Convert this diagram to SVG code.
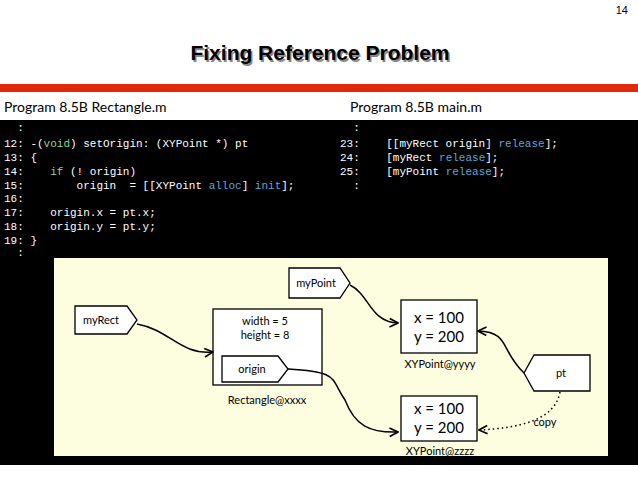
<svg xmlns="http://www.w3.org/2000/svg" width="638" height="479" viewBox="0 0 638 479">
<style>
.code{font-family:"Liberation Mono",monospace;font-size:11px;fill:#fff;white-space:pre}
.kw{fill:#8fd48f}.bl{fill:#5aa9d8}
.lbl{font-family:"Lato","Open Sans",sans-serif;font-size:11px;fill:#000;text-anchor:middle}
.big{font-family:"Lato","Open Sans",sans-serif;font-size:15px;fill:#000;text-anchor:middle}
.shape{fill:#fff;stroke:#000;stroke-width:1.3}
.con{fill:none;stroke:#000;stroke-width:1.5}
</style>
<defs><marker id="ah" viewBox="0 0 10 10" refX="9" refY="5" markerWidth="7" markerHeight="7" orient="auto"><path d="M1,1 L9,5 L1,9" fill="none" stroke="#000" stroke-width="1.6"/></marker></defs>
<rect width="638" height="479" fill="#fff"/>
<text x="628" y="14" font-family="Liberation Sans,sans-serif" font-size="11" text-anchor="end">14</text>
<text x="320" y="60" font-family="Liberation Sans,sans-serif" font-size="21" font-weight="bold" text-anchor="middle" fill="#888" transform="translate(1.5,1.5)">Fixing Reference Problem</text>
<text x="320" y="60" font-family="Liberation Sans,sans-serif" font-size="21" font-weight="bold" text-anchor="middle" fill="#000">Fixing Reference Problem</text>
<rect x="0" y="84" width="638" height="8" fill="#e0280a"/>
<text x="4" y="112" font-family="Lato,sans-serif" font-size="14">Program 8.5B Rectangle.m</text>
<text x="350" y="112" font-family="Lato,sans-serif" font-size="14">Program 8.5B main.m</text>
<rect x="0" y="120" width="638" height="345" fill="#000"/>
<text class="code" x="4" y="131">  :</text>
<text class="code" x="4" y="147">12: -(<tspan class="kw">void</tspan>) setOrigin: (XYPoint *) pt</text>
<text class="code" x="4" y="161">13: {</text>
<text class="code" x="4" y="175">14:    <tspan class="kw">if</tspan> (! origin)</text>
<text class="code" x="4" y="189">15:        origin  = [[XYPoint <tspan class="bl">alloc</tspan>] <tspan class="bl">init</tspan>];</text>
<text class="code" x="4" y="202">16:</text>
<text class="code" x="4" y="216">17:    origin.x = pt.x;</text>
<text class="code" x="4" y="230">18:    origin.y = pt.y;</text>
<text class="code" x="4" y="244">19: }</text>
<text class="code" x="4" y="256">  :</text>
<text class="code" x="340" y="131">  :</text>
<text class="code" x="340" y="147">23:    [[myRect origin] <tspan class="bl">release</tspan>];</text>
<text class="code" x="340" y="161">24:    [myRect <tspan class="bl">release</tspan>];</text>
<text class="code" x="340" y="175">25:    [myPoint <tspan class="bl">release</tspan>];</text>
<text class="code" x="340" y="189">  :</text>
<rect x="54" y="258" width="554" height="198" fill="#fdfde0"/>
<g id="myRect"><path class="shape" d="M75,306 H127 L137,320 L127,334 H75 Z"/><text class="lbl" x="101" y="324">myRect</text></g>
<g id="myPoint"><path class="shape" d="M289,268 H340 L350,283 L340,298 H289 Z"/><text class="lbl" x="316" y="287">myPoint</text></g>
<g id="rect"><rect class="shape" x="213" y="309" width="109" height="76"/><text class="lbl" x="265" y="325">width = 5</text><text class="lbl" x="265" y="339">height = 8</text><text class="lbl" x="267" y="404">Rectangle@xxxx</text></g>
<g id="origin"><path class="shape" d="M222,356 H278 L288,369 L278,382 H222 Z"/><text class="lbl" x="252" y="373">origin</text></g>
<g id="yyyy"><rect class="shape" x="401" y="300" width="76" height="53"/><text class="big" x="439" y="323">x = 100</text><text class="big" x="439" y="342">y = 200</text><text class="lbl" x="440" y="368">XYPoint@yyyy</text></g>
<g id="zzzz"><rect class="shape" x="401" y="396" width="76" height="45"/><text class="big" x="439" y="414">x = 100</text><text class="big" x="439" y="433">y = 200</text><text class="lbl" x="440" y="455">XYPoint@zzzz</text></g>
<g id="pt"><path class="shape" d="M534,355 H590 V391 H534 L524,373 Z"/><text class="lbl" x="561" y="377">pt</text></g>
<g id="connectors">
<path class="con" marker-end="url(#ah)" d="M137,324 C170,330 180,355 213,352"/>
<path class="con" marker-end="url(#ah)" d="M350,285 C370,295 370,322 398,323"/>
<path class="con" marker-end="url(#ah)" d="M288,369 C340,372 330,378 345,400 C355,426 370,433 398,432"/>
<path class="con" marker-end="url(#ah)" d="M524,373 C500,350 510,332 478,331"/>
<path class="con" marker-end="url(#ah)" stroke-dasharray="1.5,3" d="M560,392 C555,420 520,428 479,430"/>
<text class="lbl" x="545" y="426" font-size="10">copy</text>
</g>
<text x="4" y="474" font-family="Liberation Sans,sans-serif" font-size="7.5" fill="#fff">Atit Patumvan, Faculty of Management and Information Sciences, Naresuan University</text>
<text x="634" y="474" font-family="Liberation Sans,sans-serif" font-size="7.5" fill="#fff" text-anchor="end">Object-Oriented Programming Language</text>
</svg>
